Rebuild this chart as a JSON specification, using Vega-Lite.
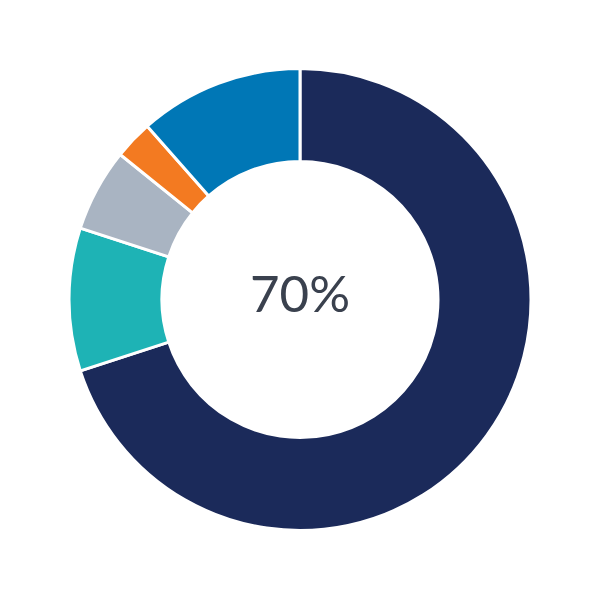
{
  "$schema": "https://vega.github.io/schema/vega-lite/v6.json",
  "width": 600,
  "height": 599,
  "autosize": {"type": "fit", "contains": "padding"},
  "padding": 0,
  "background": "white",
  "data": {
    "values": [
      {"segment": "A", "share": 70, "rank": 1},
      {"segment": "B", "share": 10, "rank": 2},
      {"segment": "C", "share": 5.8, "rank": 3},
      {"segment": "D", "share": 2.7, "rank": 4},
      {"segment": "E", "share": 11.5, "rank": 5}
    ]
  },
  "layer": [
    {
      "mark": {"type": "arc", "outerRadius": 231, "innerRadius": 138, "stroke": "white", "strokeWidth": 3},
      "encoding": {
        "theta": {"field": "share", "type": "quantitative", "stack": true},
        "order": {"field": "rank", "type": "quantitative"},
        "color": {
          "field": "segment",
          "type": "nominal",
          "scale": {
            "domain": ["A", "B", "C", "D", "E"],
            "range": ["#1b2a5a", "#1eb3b5", "#a9b4c2", "#f37a21", "#0077b6"]
          },
          "legend": null
        }
      }
    },
    {
      "data": {"values": [{"label": "70%"}]},
      "mark": {"type": "text", "font": "Lato", "fontSize": 51, "fontWeight": "normal", "color": "#3a414e", "align": "center", "baseline": "middle", "dy": -3},
      "encoding": {
        "text": {"field": "label", "type": "nominal"}
      }
    }
  ],
  "config": {
    "view": {"stroke": null}
  }
}
